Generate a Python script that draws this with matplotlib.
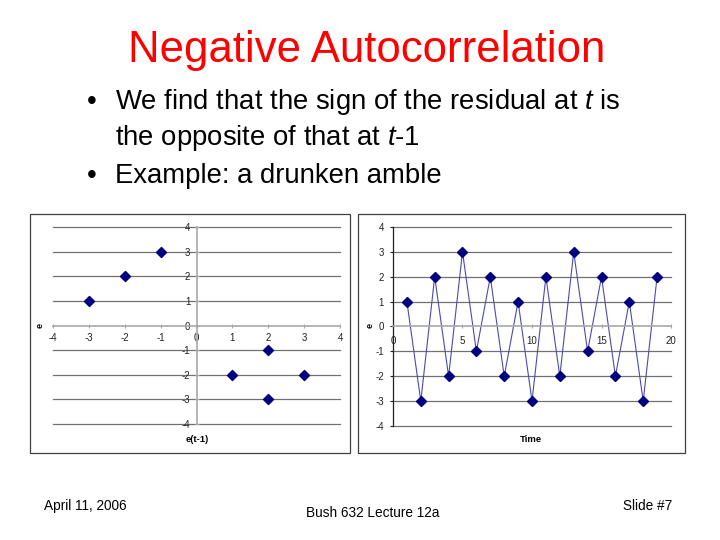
import matplotlib
matplotlib.use("Agg")
import matplotlib.pyplot as plt
from matplotlib.patches import Rectangle

plt.rcParams['font.family'] = ['Liberation Sans', 'DejaVu Sans']
plt.rcParams['mathtext.fontset'] = 'custom'
plt.rcParams['mathtext.rm'] = 'Liberation Sans'
plt.rcParams['mathtext.it'] = 'Liberation Sans:italic'

# ---- data ----
lag_x = [-3, -2, -1, 1, 2, 2, 3]          # e(t-1)
lag_y = [1, 2, 3, -2, -1, -3, -2]         # e
time = list(range(1, 20))
resid = [1, -3, 2, -2, 3, -1, 2, -2, 1, -3, 2, -2, 3, -1, 2, -2, 1, -3, 2]
y_ticks = [-4, -3, -2, -1, 0, 1, 2, 3, 4]
lag_x_ticks = [-4, -3, -2, -1, 0, 1, 2, 3, 4]
time_ticks = [0, 5, 10, 15, 20]

W, H = 720, 540
fig = plt.figure(figsize=(7.2, 5.4), dpi=100)

def fx(x):
    return x / W

def fy(y):
    return 1 - y / H

# ---- slide text ----
fig.text(fx(367), fy(62), "Negative Autocorrelation", color='#ff0000',
         fontsize=31.5, ha='center', va='baseline')
bullet_fs = 19.8
fig.text(fx(87), fy(109), "\u2022", fontsize=bullet_fs, ha='left', va='baseline')
fig.text(fx(115), fy(109), "We find that the sign of the residual at $t$ is",
         fontsize=bullet_fs, ha='left', va='baseline')
fig.text(fx(115), fy(145), r"the opposite of that at $t$-$\mathit{1}$",
         fontsize=bullet_fs, ha='left', va='baseline')
fig.text(fx(87), fy(183), "\u2022", fontsize=bullet_fs, ha='left', va='baseline')
fig.text(fx(115), fy(183), "Example: a drunken amble",
         fontsize=bullet_fs, ha='left', va='baseline')

foot_fs = 9.8
fig.text(fx(44), fy(510), "April 11, 2006", fontsize=foot_fs, ha='left', va='baseline')
fig.text(fx(373), fy(517), "Bush 632 Lecture 12a", fontsize=foot_fs, ha='center', va='baseline')
fig.text(fx(672), fy(510), "Slide #7", fontsize=foot_fs, ha='right', va='baseline')

# ---- chart frames ----
for (x0, y0, x1, y1) in [(30, 214, 350, 453), (358, 214, 685, 453)]:
    fig.patches.append(Rectangle((fx(x0), fy(y1)), fx(x1 - x0), (y1 - y0) / H,
                                 transform=fig.transFigure, fill=False,
                                 edgecolor='#404040', linewidth=0.9))

grid_c = '#707070'
axis_c = '#a8a8a8'
tick_fs = 7
navy = '#000080'

# ---- left chart: lag plot ----
ax1 = fig.add_axes([fx(53), fy(424), fx(340 - 53), (424 - 227) / H])
ax1.set_xlim(-4, 4)
ax1.set_ylim(-4, 4)
for v in y_ticks:
    if v != 0:
        ax1.axhline(v, color=grid_c, lw=0.9, zorder=1, clip_on=False)
for s in ['top', 'right']:
    ax1.spines[s].set_visible(False)
ax1.spines['left'].set_position(('data', 0))
ax1.spines['bottom'].set_position(('data', 0))
for s in ['left', 'bottom']:
    ax1.spines[s].set_color(axis_c)
    ax1.spines[s].set_linewidth(1.2)
ax1.set_xticks(lag_x_ticks)
ax1.set_yticks(y_ticks)
ax1.set_xticklabels([str(v) for v in lag_x_ticks])
ax1.set_yticklabels([str(v) for v in y_ticks])
ax1.tick_params(axis='x', labelsize=tick_fs, colors='#202020', color=axis_c,
                width=0.8, length=3, direction='inout', pad=4)
ax1.tick_params(axis='y', labelsize=tick_fs, colors='#202020', color=axis_c,
                width=0.8, length=3, direction='inout', pad=3)
ax1.scatter(lag_x, lag_y, marker='D', s=26, color=navy, zorder=3, clip_on=False)
ax1.patch.set_visible(False)
fig.text(fx(40), fy(325), "e", fontsize=6.5, fontweight='bold', rotation=90,
         ha='center', va='center')
fig.text(fx(197), fy(440), "e(t-1)", fontsize=6.8, fontweight='bold',
         ha='center', va='center')

# ---- right chart: time series ----
ax2 = fig.add_axes([fx(393), fy(426), fx(671 - 393), (426 - 227) / H])
ax2.set_xlim(0, 20)
ax2.set_ylim(-4, 4)
for v in y_ticks:
    if v != 0:
        ax2.axhline(v, color=grid_c, lw=0.9, zorder=1, clip_on=False)
for s in ['top', 'right']:
    ax2.spines[s].set_visible(False)
ax2.spines['bottom'].set_position(('data', 0))
ax2.spines['bottom'].set_color(axis_c)
ax2.spines['bottom'].set_linewidth(1.2)
ax2.spines['left'].set_color('#202020')
ax2.spines['left'].set_linewidth(0.9)
ax2.set_xticks(time_ticks)
ax2.set_xticklabels([str(v) for v in time_ticks])
ax2.set_yticks(y_ticks)
ax2.set_yticklabels([str(v) for v in y_ticks])
ax2.tick_params(axis='x', labelsize=tick_fs, colors='#202020', color=axis_c,
                length=3, direction='inout', pad=5)
ax2.tick_params(axis='y', labelsize=tick_fs, colors='#202020', length=2.5,
                direction='out', pad=4)
ax2.plot(time, resid, color='#4a4ab0', lw=0.8, zorder=2)
ax2.plot(time, resid, linestyle='none', marker='D', markersize=5,
         color=navy, zorder=3)
ax2.patch.set_visible(False)
fig.text(fx(370), fy(325), "e", fontsize=6.5, fontweight='bold', rotation=90,
         ha='center', va='center')
fig.text(fx(531), fy(440), "Time", fontsize=6.8, fontweight='bold',
         ha='center', va='center')

fig.savefig("out.png", dpi=100)
